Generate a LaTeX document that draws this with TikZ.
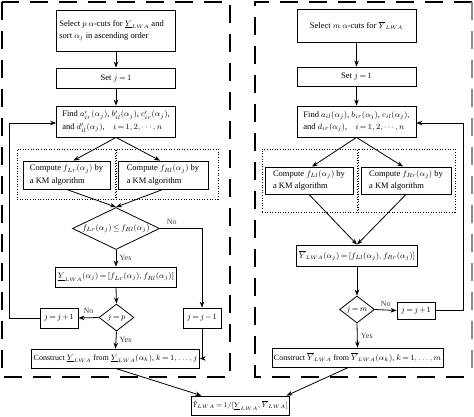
\documentclass[tikz,border=0pt]{standalone}
\usepackage{fontspec}
\setmainfont{Liberation Serif}
\usetikzlibrary{shapes.geometric,arrows.meta,calc}
\newcommand{\lwa}{{\scriptscriptstyle LWA}}
\begin{document}
\thickmuskip=3mu plus 1mu
\medmuskip=2mu plus 1mu
\begin{tikzpicture}[x=1pt,y=-1pt,
  box/.style={draw,line width=0.8pt,inner sep=2pt,font=\fontsize{8.5}{12.5}\selectfont},
  lbox/.style={box,align=left},
  sbox/.style={box,font=\fontsize{8}{10}\selectfont},
  dec/.style={draw,line width=0.8pt,shape=diamond,inner sep=0pt,font=\fontsize{8.5}{12.5}\selectfont},
  arr/.style={line width=0.8pt,-{Stealth[length=6pt,width=4.5pt]}},
  frame/.style={line width=2.5pt,dash pattern=on 18pt off 11pt},
  grp/.style={draw,line width=0.8pt,dash pattern=on 1pt off 1.6pt,inner sep=0pt},
  lab/.style={font=\fontsize{8}{10}\selectfont,text=black!75},
]
\useasboundingbox (0,0) rectangle (474,416);
% frames
\draw[frame] (2,2) rectangle (230,377);
\draw[frame] (472,2) -- (255,2) -- (255,377) -- (472,377);
\draw[frame,black!45] (472,2) -- (472,377);
% left column
\node[lbox,minimum width=119pt,minimum height=41pt] (b1) at (116,30.5) {Select $p$ $\alpha$-cuts for $\underline{Y}_\lwa$ and\\ sort $\alpha_j$ in ascending order\hphantom{ and M}};
\node[box,minimum width=119pt,minimum height=20pt] (s1) at (116,78) {Set $j=1$};
\node[lbox,minimum width=119pt,minimum height=31pt] (f1) at (116,121.5) {Find $a'_{ir}(\alpha_j)$, $b'_{il}(\alpha_j)$, $c'_{ir}(\alpha_j)$,\\ and $d'_{il}(\alpha_j)$,\quad $i=1,2,\cdots,n$};
\node[grp,minimum width=98pt,minimum height=50pt] (g1) at (66,174) {};
\node[grp,minimum width=102pt,minimum height=50pt] (g2) at (167,174) {};
\node[lbox,minimum width=87pt,minimum height=28pt] (cl1) at (66.5,175) {Compute $f_{Lr}(\alpha_j)$ by\\ a KM algorithm\hphantom{MM}};
\node[lbox,minimum width=90pt,minimum height=28pt] (cr1) at (163,175) {Compute $f_{Rl}(\alpha_j)$ by\\ a KM algorithm\hphantom{MM}};
\node[dec,minimum width=87pt,minimum height=42pt,aspect=2.1] (d1) at (116,228.5) {$f_{Lr}(\alpha_j)\le f_{Rl}(\alpha_j)$};
\node[box,minimum width=119pt,minimum height=20pt] (y1) at (116,277) {$\underline{Y}_\lwa(\alpha_j)=[f_{Lr}(\alpha_j),f_{Rl}(\alpha_j)]$};
\node[dec,minimum width=35pt,minimum height=27pt,aspect=1.3] (d2) at (116.5,317.5) {$j=p$};
\node[box,minimum width=38pt,minimum height=20pt] (jp1) at (59,318) {$j=j+1$};
\node[box,minimum width=38pt,minimum height=20pt] (jm1) at (202,318) {$j=j-1$};
\node[sbox,minimum width=157pt,minimum height=19pt] (c1) at (115.5,358.5) {Construct $\underline{Y}_\lwa$ from $\underline{Y}_\lwa(\alpha_k)$, $k=1,\ldots,j$};
% right column
\node[box,minimum width=119pt,minimum height=33pt] (b2) at (356.5,25.5) {Select $m$ $\alpha$-cuts for $\overline{Y}_\lwa$};
\node[box,minimum width=119pt,minimum height=19pt] (s2) at (356.5,76.5) {Set $j=1$};
\node[lbox,minimum width=119pt,minimum height=31pt] (f2) at (356.5,121.5) {Find $a_{il}(\alpha_j)$, $b_{ir}(\alpha_j)$, $c_{il}(\alpha_j)$,\\ and $d_{ir}(\alpha_j)$,\quad $i=1,2,\cdots,n$};
\node[grp,minimum width=95pt,minimum height=63pt] (g3) at (309.5,180.5) {};
\node[grp,minimum width=97pt,minimum height=63pt] (g4) at (406.5,180.5) {};
\node[lbox,minimum width=88pt,minimum height=27pt] (cl2) at (309,180.5) {Compute $f_{Ll}(\alpha_j)$ by\\ a KM algorithm\hphantom{MM}};
\node[lbox,minimum width=90pt,minimum height=27pt] (cr2) at (406,180.5) {Compute $f_{Rr}(\alpha_j)$ by\\ a KM algorithm\hphantom{MM}};
\node[box,minimum width=118pt,minimum height=21pt] (y2) at (357,255.5) {$\overline{Y}_\lwa(\alpha_j)=[f_{Ll}(\alpha_j),f_{Rr}(\alpha_j)]$};
\node[dec,minimum width=35pt,minimum height=27pt,aspect=1.3] (d3) at (357,309.5) {$j=m$};
\node[box,minimum width=38pt,minimum height=17pt] (jp2) at (416,310.5) {$j=j+1$};
\node[sbox,minimum width=159pt,minimum height=19pt] (c2) at (357.5,357.5) {Construct $\overline{Y}_\lwa$ from $\overline{Y}_\lwa(\alpha_k)$, $k=1,\ldots,m$};
% final
\node[box,minimum width=97pt,minimum height=19pt,inner sep=1pt,font=\fontsize{7.5}{9}\selectfont] (fin) at (240.5,405.5) {$\mbox{\itshape Ỹ}_\lwa=1/[\underline{Y}_\lwa,\overline{Y}_\lwa]$};
\coordinate (lk) at (9,123);
\coordinate (rk) at (463,123);
% left connectors
\draw[arr] (b1.south) -- (s1.north);
\draw[arr] (s1.south) -- (f1.north);
\draw[arr] (f1.south) -- ([xshift=7pt]cl1.north);
\draw[arr] (f1.south) -- ([xshift=-3pt]cr1.north);
\draw[arr] (cl1.south) -- (d1.north);
\draw[arr] (cr1.south) -- (d1.north);
\draw[arr] (d1.south) -- (y1.north) node[lab,midway,right]{Yes};
\draw[arr] (d1.east) -| (jm1.north) node[lab,pos=0.14,above]{No};
\draw[arr] (y1.south) -- (d2.north);
\draw[arr] (d2.west) -- (jp1.east) node[lab,midway,above]{No};
\draw[arr] (jp1.west) -| (lk) -- (lk -| f1.west);
\draw[arr] (d2.south) -- (c1.north) node[lab,midway,right]{Yes};
\draw[arr] (jm1.south) |- (c1.east);
\draw[arr] (c1.south) -- ([xshift=10pt]fin.north west);
% right connectors
\draw[arr] (b2.south) -- (s2.north);
\draw[arr] (s2.south) -- (f2.north);
\draw[arr] (f2.south) -- ([xshift=3pt]cl2.north);
\draw[arr] (f2.south) -- ([xshift=-3pt]cr2.north);
\draw[arr] (cl2.south) -- (y2.north);
\draw[arr] (cr2.south) -- (y2.north);
\draw[arr] (y2.south) -- (d3.north);
\draw[arr] (d3.east) -- (jp2.west) node[lab,midway,above]{No};
\draw[arr] (jp2.east) -| (rk) -- (rk -| f2.east);
\draw[arr] (d3.south) -- (c2.north) node[lab,midway,right]{Yes};
\draw[arr] ([xshift=-9pt]c2.south) -- ([xshift=-3pt]fin.north east);
\end{tikzpicture}
\end{document}
